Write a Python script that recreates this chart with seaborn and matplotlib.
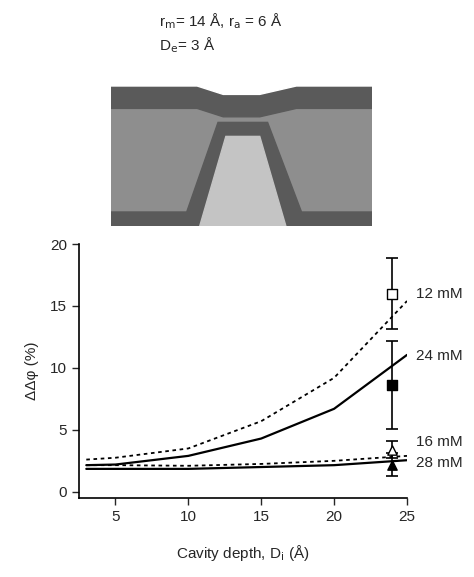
import matplotlib
matplotlib.use("Agg")
import matplotlib.pyplot as plt
import numpy as np
import pandas as pd
import seaborn as sns
from matplotlib.patches import Polygon, Rectangle

depth = [3, 5, 10, 15, 20, 25]
mM12 = [2.6, 2.75, 3.5, 5.7, 9.2, 15.4]
mM24 = [2.15, 2.2, 2.9, 4.3, 6.7, 11.05]
mM16 = [2.15, 2.15, 2.1, 2.25, 2.5, 2.9]
mM28 = [1.85, 1.85, 1.85, 2.0, 2.15, 2.55]

exp_x = 24
exp_y = [16.0, 8.6, 3.4, 2.15]
exp_lo = [13.1, 5.1, 2.7, 1.25]
exp_hi = [18.9, 12.2, 4.1, 3.1]
exp_marker = ["s", "s", "^", "^"]
exp_fill = ["white", "black", "white", "black"]
labels = ["12 mM", "24 mM", "16 mM", "28 mM"]
label_y = [16.0, 11.0, 4.0, 2.3]

sns.set_style("white")
plt.rcParams["font.family"] = ["Liberation Sans", "DejaVu Sans"]

fig = plt.figure(figsize=(4.74, 5.77), dpi=100)

fig.text(0.335, 0.955, r"r$_\mathrm{m}$= 14 Å, r$_\mathrm{a}$ = 6 Å", fontsize=11)
fig.text(0.335, 0.912, r"D$_\mathrm{e}$= 3 Å", fontsize=11)

# channel schematic
sk = fig.add_axes([111 / 474, 1 - 226 / 577, 261 / 474, 140 / 577])
sk.set_xlim(0, 1)
sk.set_ylim(0, 1)
sk.axis("off")
dark, mid, light = "#5a5a5a", "#8e8e8e", "#c4c4c4"
sk.add_patch(Rectangle((0, 0), 1, 1, color=mid))
sk.add_patch(Polygon([(0, 0.84), (0.33, 0.84), (0.43, 0.78), (0.57, 0.78), (0.71, 0.84),
                      (1, 0.84), (1, 1), (0, 1)], color=dark))
sk.add_patch(Polygon([(0, 1), (0.33, 1), (0.43, 0.94), (0.57, 0.94), (0.71, 1),
                      (1, 1), (1, 1.01), (0, 1.01)], color="white", clip_on=False))
sk.add_patch(Polygon([(0, 0), (1, 0), (1, 0.1), (0.73, 0.1), (0.6, 0.74), (0.41, 0.74),
                      (0.29, 0.1), (0, 0.1)], color=dark))
sk.add_patch(Polygon([(0.34, 0), (0.44, 0.64), (0.57, 0.64), (0.67, 0)], color=light))

ax = fig.add_axes([79 / 474, 79 / 577, 328 / 474, 254 / 577])
df = pd.DataFrame({"depth": depth, "12": mM12, "24": mM24, "16": mM16, "28": mM28})
for col, ls in [("12", (0, (2, 2))), ("24", "-"), ("16", (0, (2, 2))), ("28", "-")]:
    sns.lineplot(data=df, x="depth", y=col, ax=ax, color="black", linestyle=ls,
                 linewidth=1.6 if ls == "-" else 1.3)

for y, lo, hi, m, fc in zip(exp_y, exp_lo, exp_hi, exp_marker, exp_fill):
    ax.errorbar([exp_x], [y], yerr=[[y - lo], [hi - y]], fmt="none", ecolor="black",
                elinewidth=1.2, capsize=4, capthick=1.2)
    ax.scatter([exp_x], [y], marker=m, s=45, facecolor=fc, edgecolor="black",
               linewidth=1, zorder=5)

for lab, ly in zip(labels, label_y):
    ax.text(25.6, ly, lab, fontsize=11, va="center", clip_on=False)

ax.set_xlim(2.5, 25)
ax.set_ylim(-0.5, 20)
ax.set_xticks([5, 10, 15, 20, 25])
ax.set_yticks([0, 5, 10, 15, 20])
ax.tick_params(direction="out", length=5, width=1, labelsize=11, left=True, bottom=True)
for s in ["top", "right"]:
    ax.spines[s].set_visible(False)
for s in ["left", "bottom"]:
    ax.spines[s].set_color("black")
    ax.spines[s].set_linewidth(1.2)
ax.set_xlabel(r"Cavity depth, D$_\mathrm{i}$ (Å)", fontsize=11, labelpad=14)
ax.set_ylabel("ΔΔφ (%)", fontsize=11, labelpad=8)

fig.savefig("out.png", dpi=100)
